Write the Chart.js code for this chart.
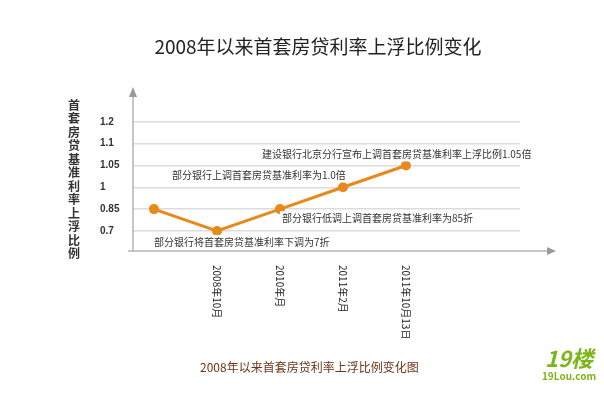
<!DOCTYPE html>
<html>
<head>
<meta charset="utf-8">
<script src="https://cdn.jsdelivr.net/npm/chart.js@4/dist/chart.umd.min.js"></script>
<style>
    html, body { margin: 0; padding: 0; background: #fff; }
    #wrap { position: relative; width: 604px; height: 393px; }
    #title {
        position: absolute; left: 0; top: 32px; width: 636px; text-align: center;
        font: 19px "Noto Sans CJK SC", "Noto Sans", sans-serif; color: #222;
    }
    #caption {
        position: absolute; left: 200px; top: 358px;
        font: 12px "Noto Sans CJK SC", sans-serif; color: #6b3517;
    }
    #logo { position: absolute; left: 538px; top: 344px; width: 62px; text-align: center; color: #7cb518; font-family: "Noto Sans CJK SC", sans-serif; white-space: nowrap; }
    #logo .big { font-size: 22px; font-weight: bold; line-height: 26px; font-style: italic; }
    #logo .small { font-size: 10px; font-weight: bold; line-height: 12px; }
</style>
</head>
<body>
<div id="wrap">
    <canvas id="chart" width="604" height="393"></canvas>
    <div id="title">2008年以来首套房贷利率上浮比例变化</div>
    <div id="caption">2008年以来首套房贷利率上浮比例变化图</div>
    <div id="logo"><div class="big">19楼</div><div class="small">19Lou.com</div></div>
</div>
<script>
// ========== DATA ==========
const yTickLabels = ['0.7', '0.85', '1', '1.05', '1.1', '1.2'];
const dateLabels = ['', '2008年10月', '2010年月', '2011年2月', '2011年10月13日'];
const rateValues = ['0.85', '0.7', '0.85', '1', '1.05'];
const yAxisTitle = '首套房贷基准利率上浮比例';
const notes = [
    { text: '部分银行将首套房贷基准利率下调为7折', at: 1, dx: -63, dy: 11 },
    { text: '部分银行低调上调首套房贷基准利率为85折', at: 2, dx: 2, dy: 9 },
    { text: '部分银行上调首套房贷基准利率为1.0倍', at: 3, dx: -171, dy: -12 },
    { text: '建设银行北京分行宣布上调首套房贷基准利率上浮比例1.05倍', at: 4, dx: -144, dy: -11 }
];

const lineColor = '#e8891c';
const fontCJK = '"Noto Sans CJK SC", sans-serif';

// axes, vertical labels, notes
const decorPlugin = {
    id: 'decor',
    afterDatasetsDraw(chart) {
        const ctx = chart.ctx;
        const x = chart.scales.x, y = chart.scales.y;
        const ax = x.left, ay = y.bottom;
        ctx.save();
        // axes
        ctx.strokeStyle = '#b5b5b5';
        ctx.fillStyle = '#9a9a9a';
        ctx.lineWidth = 1.5;
        ctx.beginPath();
        ctx.moveTo(ax, ay + 1);
        ctx.lineTo(ax, 96);
        ctx.moveTo(ax - 5, ay);
        ctx.lineTo(548, ay);
        ctx.stroke();
        ctx.beginPath();
        ctx.moveTo(ax, 87); ctx.lineTo(ax - 4, 97); ctx.lineTo(ax + 4, 97); ctx.closePath();
        ctx.fill();
        ctx.beginPath();
        ctx.moveTo(556, ay); ctx.lineTo(547, ay - 4); ctx.lineTo(547, ay + 4); ctx.closePath();
        ctx.fill();

        // y axis title, stacked characters
        ctx.fillStyle = '#333';
        ctx.font = 'bold 12px ' + fontCJK;
        ctx.textAlign = 'center';
        ctx.textBaseline = 'middle';
        [...yAxisTitle].forEach((ch, i) => ctx.fillText(ch, 74, 105 + i * 13.5));

        // x labels, rotated clockwise
        ctx.font = '10px ' + fontCJK;
        ctx.fillStyle = '#222';
        dateLabels.forEach((lab, i) => {
            if (!lab) return;
            ctx.save();
            ctx.translate(x.getPixelForValue(i), ay + 14);
            ctx.rotate(Math.PI / 2);
            ctx.textAlign = 'left';
            ctx.fillText(lab, 0, 0);
            ctx.restore();
        });

        // notes
        ctx.font = '10px ' + fontCJK;
        ctx.textAlign = 'left';
        notes.forEach(n => {
            const px = x.getPixelForValue(n.at) + n.dx;
            const py = y.getPixelForValue(yTickLabels.indexOf(rateValues[n.at])) + n.dy;
            const w = ctx.measureText(n.text).width;
            ctx.fillStyle = '#fff';
            ctx.fillRect(px - 2, py - 7, w + 4, 14);
            ctx.fillStyle = '#333';
            ctx.fillText(n.text, px, py);
        });
        ctx.restore();
    }
};

new Chart(document.getElementById('chart'), {
    type: 'line',
    data: {
        labels: dateLabels,
        datasets: [{
            data: rateValues.map((v, i) => ({ x: i, y: yTickLabels.indexOf(v) })),
            borderColor: lineColor,
            backgroundColor: lineColor,
            borderWidth: 3,
            pointRadius: 5,
            pointBorderWidth: 0,
            tension: 0
        }]
    },
    options: {
        responsive: false,
        animation: false,
        layout: { padding: { left: 100, right: 84, top: 100, bottom: 142 } },
        plugins: { legend: { display: false }, tooltip: { enabled: false } },
        scales: {
            x: {
                type: 'linear',
                min: -0.333,
                max: 5.81,
                afterFit: scale => { scale.height = 0; },
                ticks: { display: false },
                grid: { display: false },
                border: { display: false }
            },
            y: {
                type: 'linear',
                min: -0.92,
                max: 6.0,
                afterBuildTicks: scale => {
                    scale.ticks = yTickLabels.map((_, i) => ({ value: i }));
                },
                afterFit: scale => { scale.width = 33; },
                ticks: {
                    crossAlign: 'far',
                    color: '#333',
                    font: { size: 10, weight: 'bold', family: 'Arial, "Liberation Sans", sans-serif' },
                    callback: v => yTickLabels[v]
                },
                grid: { color: '#dcdcdc', lineWidth: 1.5, drawTicks: false },
                border: { display: false }
            }
        }
    },
    plugins: [decorPlugin]
});
</script>
</body>
</html>
